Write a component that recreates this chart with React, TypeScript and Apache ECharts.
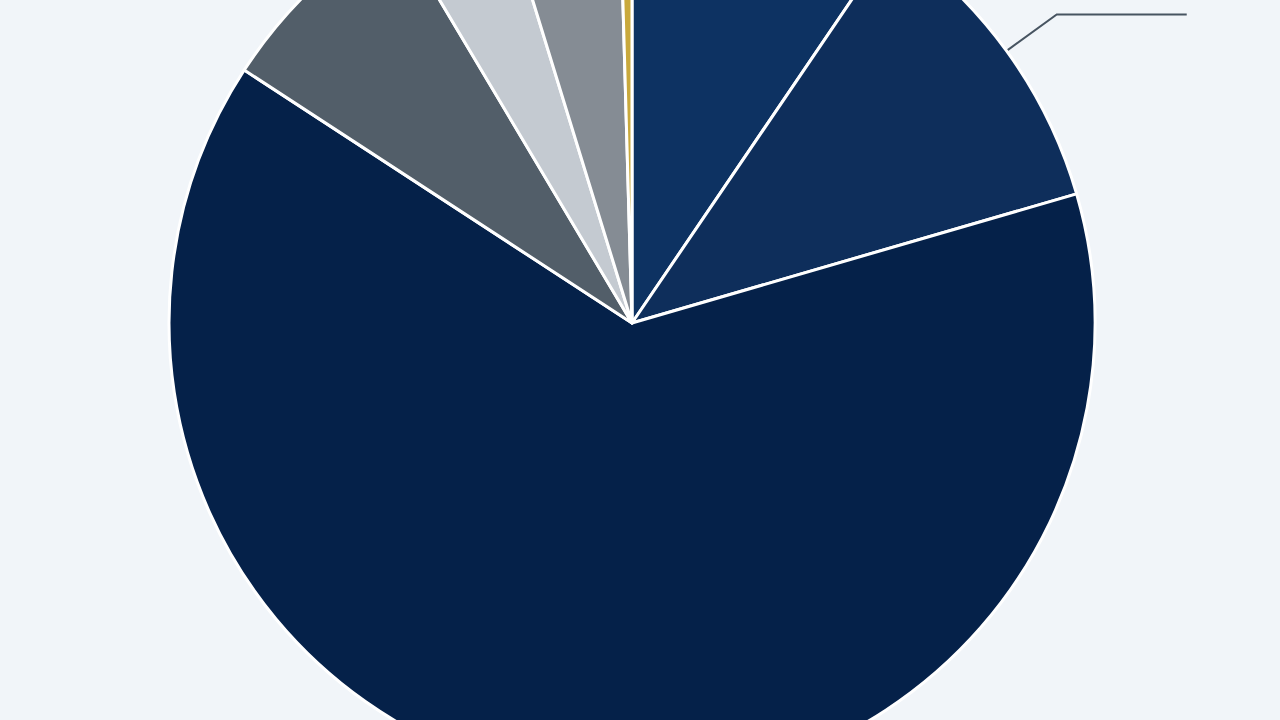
import React, { useEffect, useRef } from 'react';
import * as echarts from 'echarts';

// slice names (not shown in the frame) and their shares in %
const segments = ['Segment A', 'Segment B', 'Segment C', 'Segment D', 'Segment E', 'Segment F', 'Segment G'];
const shares = [9.5, 11.0, 63.7, 7.25, 3.8, 4.3, 0.45];
const colors = ['#0d3262', '#0e2e5b', '#052149', '#525e69', '#c4cad1', '#858c94', '#c9a93c'];
// only this slice has a visible leader line
const labelled = ['Segment B'];

const App: React.FC = () => {
    const chartRef: any = useRef();

    useEffect(() => {
        const chart = echarts.init(chartRef.current, null, { renderer: 'svg' });
        const option = {
            animation: false,
            backgroundColor: '#f1f5f9',
            series: [{
                type: 'pie',
                center: [632, 323],
                radius: 463,
                startAngle: 90,
                clockwise: true,
                avoidLabelOverlap: false,
                itemStyle: { borderColor: '#ffffff', borderWidth: 3 },
                data: segments.map((name, i) => {
                    const show = labelled.includes(name);
                    return {
                        name,
                        value: shares[i],
                        itemStyle: { color: colors[i] },
                        label: { show, position: 'outside', formatter: ' ' },
                        labelLine: {
                            show,
                            length: 62,
                            length2: 130,
                            lineStyle: { color: '#475461', width: 2 }
                        }
                    };
                })
            }]
        };
        chart.setOption(option);
        return () => {
            chart.dispose();
        };
    }, []);

    return <div ref={chartRef} style={{ position: 'fixed', left: 0, top: 0, width: 1280, height: 720 }}></div>;
};

export default App;
